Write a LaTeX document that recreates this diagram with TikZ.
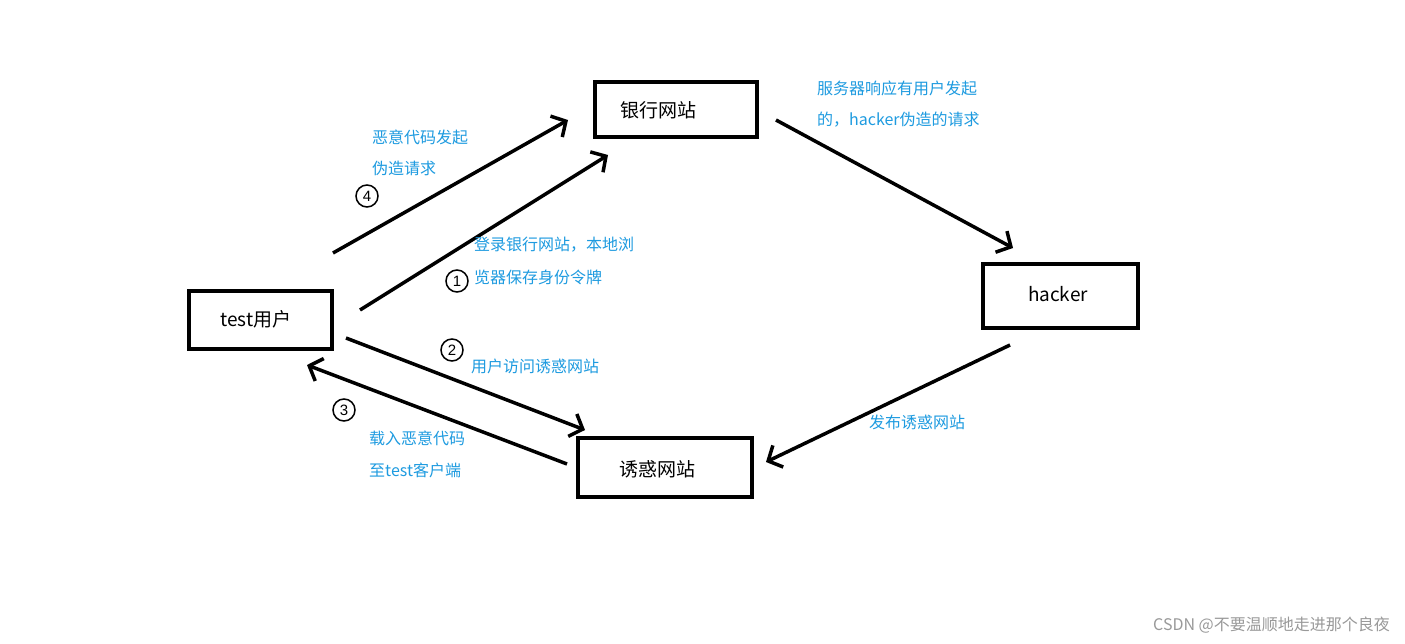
\documentclass[tikz,border=0pt]{standalone}
\usepackage{fontspec}
\setmainfont{Liberation Sans}
\newfontfamily\cjk{Noto Sans CJK SC}
\usetikzlibrary{arrows.meta}
\definecolor{lblue}{HTML}{1E9BE0}
\begin{document}
\begin{tikzpicture}[x=1pt,y=-1pt,
  box/.style={draw,line width=3.5pt,minimum width=0pt,inner sep=0pt,font=\cjk\fontsize{19}{22}\selectfont},
  arr/.style={line width=3.5pt,-{Straight Barb[length=11pt,width=24pt,line width=3.5pt]}},
  lbl/.style={anchor=west,text=lblue,inner sep=0pt,font=\cjk\fontsize{16}{20}\selectfont},
  num/.style={circle,draw,line width=1.5pt,minimum size=22pt,inner sep=0pt,font=\fontsize{15}{18}\selectfont}]
\useasboundingbox (0,0) rectangle (1405,644);
\fill[white] (0,0) rectangle (1405,644);
\draw[line width=3.5pt] (595,82) rectangle (757,137); \node[box,draw=none] (bank) at (658,110) {银行网站};
\draw[line width=3.5pt] (189,291) rectangle (332,349); \node[box,draw=none] (test) at (256,319) {test用户};
\draw[line width=3.5pt] (983,264) rectangle (1138,328); \node[box,draw=none] (hacker) at (1058,294) {hacker};
\draw[line width=3.5pt] (578,438) rectangle (752,497); \node[box,draw=none] (lure) at (657,469) {诱惑网站};
\coordinate (a1) at (333,253); \coordinate (b1) at (568,120);
\coordinate (a2) at (360,310); \coordinate (b2) at (608,155);
\coordinate (a3) at (776,120); \coordinate (b3) at (1013,248);
\coordinate (a4) at (1010,345); \coordinate (b4) at (766,462);
\coordinate (a5) at (346,338); \coordinate (b5) at (585,430);
\coordinate (a6) at (567,464); \coordinate (b6) at (307,365);
\draw[arr] (a1)--(b1); \draw[arr] (a2)--(b2); \draw[arr] (a3)--(b3);
\draw[arr] (a4)--(b4); \draw[arr] (a5)--(b5); \draw[arr] (a6)--(b6);
\node[num] (n4) at (367,196) {4};
\node[num] (n1) at (457,281) {1};
\node[num] (n2) at (452,350) {2};
\node[num] (n3) at (344,410) {3};
\node[lbl] (t1) at (372,137) {恶意代码发起};
\node[lbl] (t2) at (372,168) {伪造请求};
\node[lbl] (t3) at (474,245) {登录银行网站，本地浏};
\node[lbl] (t4) at (474,277) {览器保存身份令牌};
\node[lbl] (t5) at (471,366) {用户访问诱惑网站};
\node[lbl] (t6) at (369,438) {载入恶意代码};
\node[lbl] (t7) at (369,470) {至test客户端};
\node[lbl] (t8) at (817,88) {服务器响应有用户发起};
\node[lbl] (t9) at (817,120) {的，hacker伪造的请求};
\node[lbl] (t10) at (869,422) {发布诱惑网站};
\node[anchor=east,text=gray!80,inner sep=0pt,font=\cjk\fontsize{16}{20}\selectfont] (wm) at (1390,625) {CSDN @不要温顺地走进那个良夜};
\end{tikzpicture}
\end{document}
